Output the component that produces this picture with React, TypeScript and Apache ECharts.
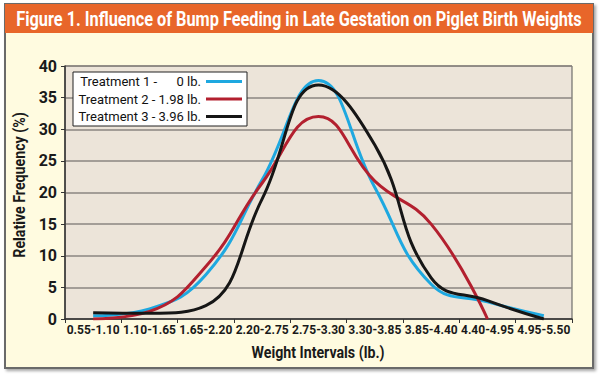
import React, { useEffect, useRef } from "react";
import * as echarts from "echarts";

const categories = ["0.55-1.10", "1.10-1.65", "1.65-2.20", "2.20-2.75", "2.75-3.30", "3.30-3.85", "3.85-4.40", "4.40-4.95", "4.95-5.50"];
const treatment1 = [0.5, 1.6, 7.0, 22.0, 37.7, 20.8, 5.5, 2.7, 0.5];
const treatment2: (number | null)[] = [0, 1.2, 8.3, 21.5, 32.0, 21.8, 15.0, 0, null];
const treatment3 = [1.0, 0.9, 2.1, 19.0, 37.0, 27.5, 6.5, 2.9, 0];
const seriesNames = ["Treatment 1 -      0 lb.", "Treatment 2 - 1.98 lb.", "Treatment 3 - 3.96 lb."];
const legendLeft = ["Treatment 1 -", "Treatment 2 - 1.98 lb.", "Treatment 3 - 3.96 lb."];
const legendRight = ["0 lb.", "", ""];
const titleText = "Figure 1. Influence of Bump Feeding in Late Gestation on Piglet Birth Weights";
const xTitle = "Weight Intervals (lb.)";
const yTitle = "Relative Frequency (%)";

const FONT = "Roboto, 'Noto Sans', sans-serif";

function measure(text: string, font: string): number {
  const c = document.createElement("canvas");
  const ctx = c.getContext("2d");
  if (!ctx) return text.length * 7;
  ctx.font = font;
  return ctx.measureText(text).width;
}

export default function App() {
  const ref = useRef<HTMLDivElement>(null);
  useEffect(() => {
    if (!ref.current) return;
    const chart = echarts.init(ref.current, undefined, { renderer: "svg" });
    const colors = ["#1EA8E0", "#B3202F", "#161616"];
    const data = [treatment1, treatment2, treatment3];

    const titleFont = "bold 20px Roboto";
    const titleScale = 566 / measure(titleText, titleFont);
    const axFont = "bold 17px Roboto";
    const axScale = 133 / measure(xTitle, axFont);
    const legFont = "13px Roboto";
    const fullW = Math.ceil(measure("Treatment 2 - 1.98 lb.", legFont)) + 1;
    const leftW = measure("Treatment 2 - ", legFont);
    const rightW = fullW - leftW;

    chart.setOption({
      animation: false,
      backgroundColor: "#ffffff",
      graphic: [
        {
          type: "rect",
          z: -10,
          shape: { x: 5, y: 4, width: 588, height: 364 },
          style: { fill: "#FFFBE0", stroke: "#6b6b6b", lineWidth: 2, shadowBlur: 3, shadowOffsetX: 2, shadowOffsetY: 2, shadowColor: "rgba(0,0,0,0.35)" },
        },
        {
          type: "rect",
          z: -9,
          shape: { x: 5, y: 4, width: 588, height: 29 },
          style: { fill: "#E8662A" },
        },
        {
          type: "text",
          z: 10,
          x: 299,
          y: 19,
          scaleX: titleScale,
          style: { text: titleText, fill: "#ffffff", font: titleFont, align: "center", verticalAlign: "middle" },
        },
        {
          type: "text",
          z: 10,
          x: 318,
          y: 352,
          scaleX: axScale,
          style: { text: xTitle, fill: "#1a1a1a", font: axFont, align: "center", verticalAlign: "middle" },
        },
        {
          type: "text",
          z: 10,
          x: 19,
          y: 185,
          rotation: Math.PI / 2,
          scaleX: axScale,
          style: { text: yTitle, fill: "#1a1a1a", font: axFont, align: "center", verticalAlign: "middle" },
        },
      ],
      legend: {
        show: true,
        left: 73,
        top: 72,
        orient: "vertical",
        align: "right",
        icon: "rect",
        itemGap: 4.5,
        itemWidth: 36,
        itemHeight: 3,
        backgroundColor: "#ffffff",
        borderColor: "#222",
        borderWidth: 1,
        borderRadius: 0,
        padding: [3, 5, 3, 4],
        data: seriesNames,
        formatter: (name: string) => {
          const i = seriesNames.indexOf(name);
          if (legendRight[i]) return "{a|" + legendLeft[i] + "}{b|" + legendRight[i] + "}";
          return "{c|" + legendLeft[i] + "}";
        },
        textStyle: {
          fontFamily: "Roboto",
          fontSize: 13,
          color: "#111",
          rich: {
            a: { fontFamily: "Roboto", fontSize: 13, color: "#111", width: leftW, lineHeight: 14 },
            b: { fontFamily: "Roboto", fontSize: 13, color: "#111", width: rightW, align: "right", lineHeight: 14 },
            c: { fontFamily: "Roboto", fontSize: 13, color: "#111", width: fullW, lineHeight: 14 },
          },
        },
      },
      grid: {
        left: 65,
        top: 66,
        width: 507,
        height: 253,
        show: true,
        backgroundColor: "#ECE4D9",
        borderColor: "#555",
        borderWidth: 1,
      },
      xAxis: {
        type: "category",
        data: categories,
        boundaryGap: true,
        axisLine: { show: true, lineStyle: { color: "#333", width: 1.5 } },
        axisTick: { show: true, length: 4, lineStyle: { color: "#333" } },
        axisLabel: { interval: 0, margin: 5, fontFamily: FONT, fontWeight: "bold", fontSize: 12, color: "#1a1a1a" },
        splitLine: { show: false },
      },
      yAxis: {
        type: "value",
        min: 0,
        max: 40,
        interval: 5,
        axisLine: { show: true, lineStyle: { color: "#333", width: 1.5 } },
        axisTick: { show: true, length: 4, lineStyle: { color: "#333" } },
        axisLabel: { margin: 8, fontFamily: FONT, fontWeight: "bold", fontSize: 16, color: "#1a1a1a" },
        splitLine: { show: true, lineStyle: { color: "#8B8681", width: 1.5 } },
      },
      series: data.map((d, i) => ({
        name: seriesNames[i],
        type: "line",
        data: d,
        smooth: 0.45,
        symbol: "none",
        connectNulls: false,
        lineStyle: { color: colors[i], width: 3 },
        itemStyle: { color: colors[i] },
        z: i === 0 ? 3 : i === 1 ? 4 : 5,
      })),
    });
    return () => chart.dispose();
  }, []);
  return <div ref={ref} style={{ position: "fixed", left: 0, top: 0, width: 600, height: 378 }} />;
}
